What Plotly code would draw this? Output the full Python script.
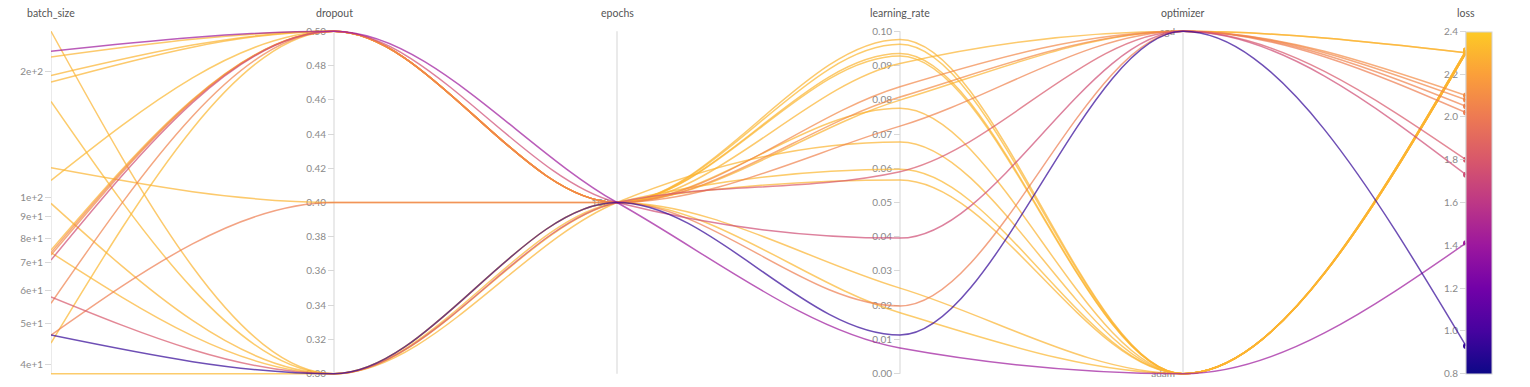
import math
import plotly.graph_objects as go
from plotly.colors import sample_colorscale, sequential

# ---------------- data (one entry per run) ----------------
dimensions = ["batch_size", "dropout", "epochs", "learning_rate", "optimizer", "loss"]

batch_size = [224, 47, 71, 58, 56, 47, 73, 74, 217, 196,
              189, 110, 75, 45, 118, 250, 170, 97, 74, 38]
dropout = [0.50, 0.30, 0.50, 0.30, 0.50, 0.40, 0.50, 0.50, 0.50, 0.50,
           0.50, 0.50, 0.50, 0.50, 0.40, 0.30, 0.30, 0.30, 0.30, 0.30]
epochs = [100] * 20
learning_rate = [0.0075, 0.0113, 0.0396, 0.0590, 0.0723, 0.0198, 0.0838, 0.0808, 0.0906, 0.0799,
                 0.0976, 0.0962, 0.0935, 0.0928, 0.0775, 0.0677, 0.0597, 0.0566, 0.0250, 0.0178]
optimizer = ["adam", "sgd", "sgd", "sgd", "sgd", "sgd", "sgd", "sgd", "sgd", "sgd",
             "adam", "adam", "adam", "adam", "adam", "adam", "adam", "adam", "adam", "adam"]
loss = [1.41, 0.93, 1.73, 1.80, 2.05, 2.02, 2.08, 2.10, 2.30, 2.30,
        2.30, 2.31, 2.30, 2.31, 2.30, 2.30, 2.31, 2.30, 2.30, 2.31]

optimizer_categories = ["adam", "sgd"]

# axis extents and ticks
batch_extent = [38, 250]
batch_tickvals = [40, 50, 60, 70, 80, 90, 100, 200]
batch_ticktext = ["4e+1", "5e+1", "6e+1", "7e+1", "8e+1", "9e+1", "1e+2", "2e+2"]
dropout_extent = [0.30, 0.50]
dropout_ticks = [0.30, 0.32, 0.34, 0.36, 0.38, 0.40, 0.42, 0.44, 0.46, 0.48, 0.50]
epochs_extent = [99, 101]
epochs_ticks = [100]
lr_extent = [0.00, 0.10]
lr_ticks = [0.00, 0.01, 0.02, 0.03, 0.04, 0.05, 0.06, 0.07, 0.08, 0.09, 0.10]
loss_extent = [0.8, 2.4]
loss_ticks = [0.8, 1.0, 1.2, 1.4, 1.6, 1.8, 2.0, 2.2, 2.4]

# ---------------- layout geometry ----------------
W, H = 1530, 387
TOP, BOT = 31, 374
LEFT, RIGHT = 51, 1466
P = 0.03
pad_px = P * (BOT - TOP)

colorscale = [[i / 8, c] for i, c in enumerate(sequential.Plasma[:9])]


def norm_lin(v, ext):
    return (v - ext[0]) / (ext[1] - ext[0])


def norm_log(v, ext):
    return (math.log10(v) - math.log10(ext[0])) / (math.log10(ext[1]) - math.log10(ext[0]))


def padded(ext):
    d = ext[1] - ext[0]
    return [ext[0] - P * d, ext[1] + P * d]


def monotone_path(xs, ys):
    """d3.curveMonotoneX as an SVG path in data coordinates."""
    n = len(xs)

    def sg(v):
        return -1 if v < 0 else 1

    t = [0.0] * n
    for i in range(1, n - 1):
        h0 = xs[i] - xs[i - 1]
        h1 = xs[i + 1] - xs[i]
        s0 = (ys[i] - ys[i - 1]) / h0
        s1 = (ys[i + 1] - ys[i]) / h1
        p = (s0 * h1 + s1 * h0) / (h0 + h1)
        t[i] = (sg(s0) + sg(s1)) * min(abs(s0), abs(s1), 0.5 * abs(p))
    t[0] = (3 * (ys[1] - ys[0]) / (xs[1] - xs[0]) - t[1]) / 2
    t[-1] = (3 * (ys[-1] - ys[-2]) / (xs[-1] - xs[-2]) - t[-2]) / 2
    path = f"M {xs[0]},{ys[0]}"
    for i in range(1, n):
        dx = (xs[i] - xs[i - 1]) / 3
        path += (f" C {xs[i-1] + dx},{ys[i-1] + dx * t[i-1]}"
                 f" {xs[i] - dx},{ys[i] - dx * t[i]} {xs[i]},{ys[i]}")
    return path


fig = go.Figure()
xs = list(range(len(dimensions)))

# invisible marker trace that carries the loss colour bar
loss_norm_vals = [norm_lin(v, loss_extent) for v in loss]
fig.add_trace(go.Scatter(
    x=[xs[-1]] * len(loss), y=loss_norm_vals, mode="markers", hoverinfo="skip",
    showlegend=False,
    marker=dict(size=0, color=loss, colorscale=colorscale, cmin=loss_extent[0], cmax=loss_extent[1],
                showscale=True,
                colorbar=dict(x=1, xref="paper", xanchor="left", xpad=0,
                              y=0.5, yanchor="middle", ypad=0,
                              len=1 / (1 + 2 * P), lenmode="fraction",
                              thickness=26, thicknessmode="pixels",
                              outlinewidth=1, outlinecolor="#d4d4d4",
                              showticklabels=False, ticks=""))
))

# polylines, one per run (curved like the original)
order = sorted(range(len(loss)), key=lambda i: -loss[i])
shapes = []
for i in order:
    ys = [
        norm_log(batch_size[i], batch_extent),
        norm_lin(dropout[i], dropout_extent),
        norm_lin(epochs[i], epochs_extent),
        norm_lin(learning_rate[i], lr_extent),
        optimizer_categories.index(optimizer[i]) / (len(optimizer_categories) - 1),
        norm_lin(loss[i], loss_extent),
    ]
    col = sample_colorscale(colorscale, [norm_lin(loss[i], loss_extent)])[0]
    shapes.append(dict(type="path", xref="x", yref="y", path=monotone_path(xs, ys),
                       line=dict(color=col, width=1.5), opacity=0.7, layer="above"))

# dimension axes
axis_specs = [
    dict(ext=batch_extent, type="log", tickvals=batch_tickvals, ticktext=batch_ticktext),
    dict(ext=dropout_extent, type="linear", tickvals=dropout_ticks,
         ticktext=[f"{v:.2f}" for v in dropout_ticks]),
    dict(ext=epochs_extent, type="linear", tickvals=epochs_ticks,
         ticktext=[str(v) for v in epochs_ticks]),
    dict(ext=lr_extent, type="linear", tickvals=lr_ticks,
         ticktext=[f"{v:.2f}" for v in lr_ticks]),
    dict(ext=[0, len(optimizer_categories) - 1], type="linear",
         tickvals=list(range(len(optimizer_categories))), ticktext=optimizer_categories),
    dict(ext=loss_extent, type="linear", tickvals=loss_ticks,
         ticktext=[f"{v:.1f}" for v in loss_ticks]),
]

tick_font = dict(family="Lato, 'Source Sans Pro', sans-serif", size=10, color="#8a8a8a")
layout_axes = {}
for k, spec in enumerate(axis_specs):
    name = f"yaxis{k + 2}"
    ref = f"y{k + 2}"
    if spec["type"] == "log":
        rng = padded([math.log10(spec["ext"][0]), math.log10(spec["ext"][1])])
    else:
        rng = padded(spec["ext"])
    layout_axes[name] = dict(
        overlaying="y", anchor="free", position=k / (len(dimensions) - 1), side="left",
        type=spec["type"], range=rng, tickmode="array", tickvals=spec["tickvals"],
        ticktext=spec["ticktext"], showgrid=False, zeroline=False, showline=False,
        ticks="outside", ticklen=6, tickwidth=1, tickcolor="#d8d8d8",
        tickfont=tick_font, fixedrange=True,
    )
    fig.add_trace(go.Scatter(
        x=[xs[k], xs[k]], y=spec["ext"], yaxis=ref, mode="lines", hoverinfo="skip",
        showlegend=False, line=dict(color="#e3e3e3", width=1.5)))

annotations = []
for k, name in enumerate(dimensions):
    annotations.append(dict(
        text=name, xref="paper", x=k / (len(dimensions) - 1), yref="y", y=1,
        xanchor="center", yanchor="bottom", yshift=10, showarrow=False,
        font=dict(family="Lato, 'Source Sans Pro', sans-serif", size=10.5, color="#555555")))

fig.update_layout(
    width=W, height=H,
    margin=dict(l=LEFT, r=W - RIGHT, t=TOP - pad_px, b=H - BOT - pad_px, pad=0),
    paper_bgcolor="white", plot_bgcolor="white",
    xaxis=dict(range=[0, len(dimensions) - 1], visible=False, fixedrange=True),
    yaxis=dict(range=[-P, 1 + P], visible=False, fixedrange=True),
    shapes=shapes, annotations=annotations, showlegend=False,
    **layout_axes,
)

fig.write_html("out.html", config={"displayModeBar": False},
               post_script="document.body.style.margin='0';document.body.style.overflow='hidden';")
